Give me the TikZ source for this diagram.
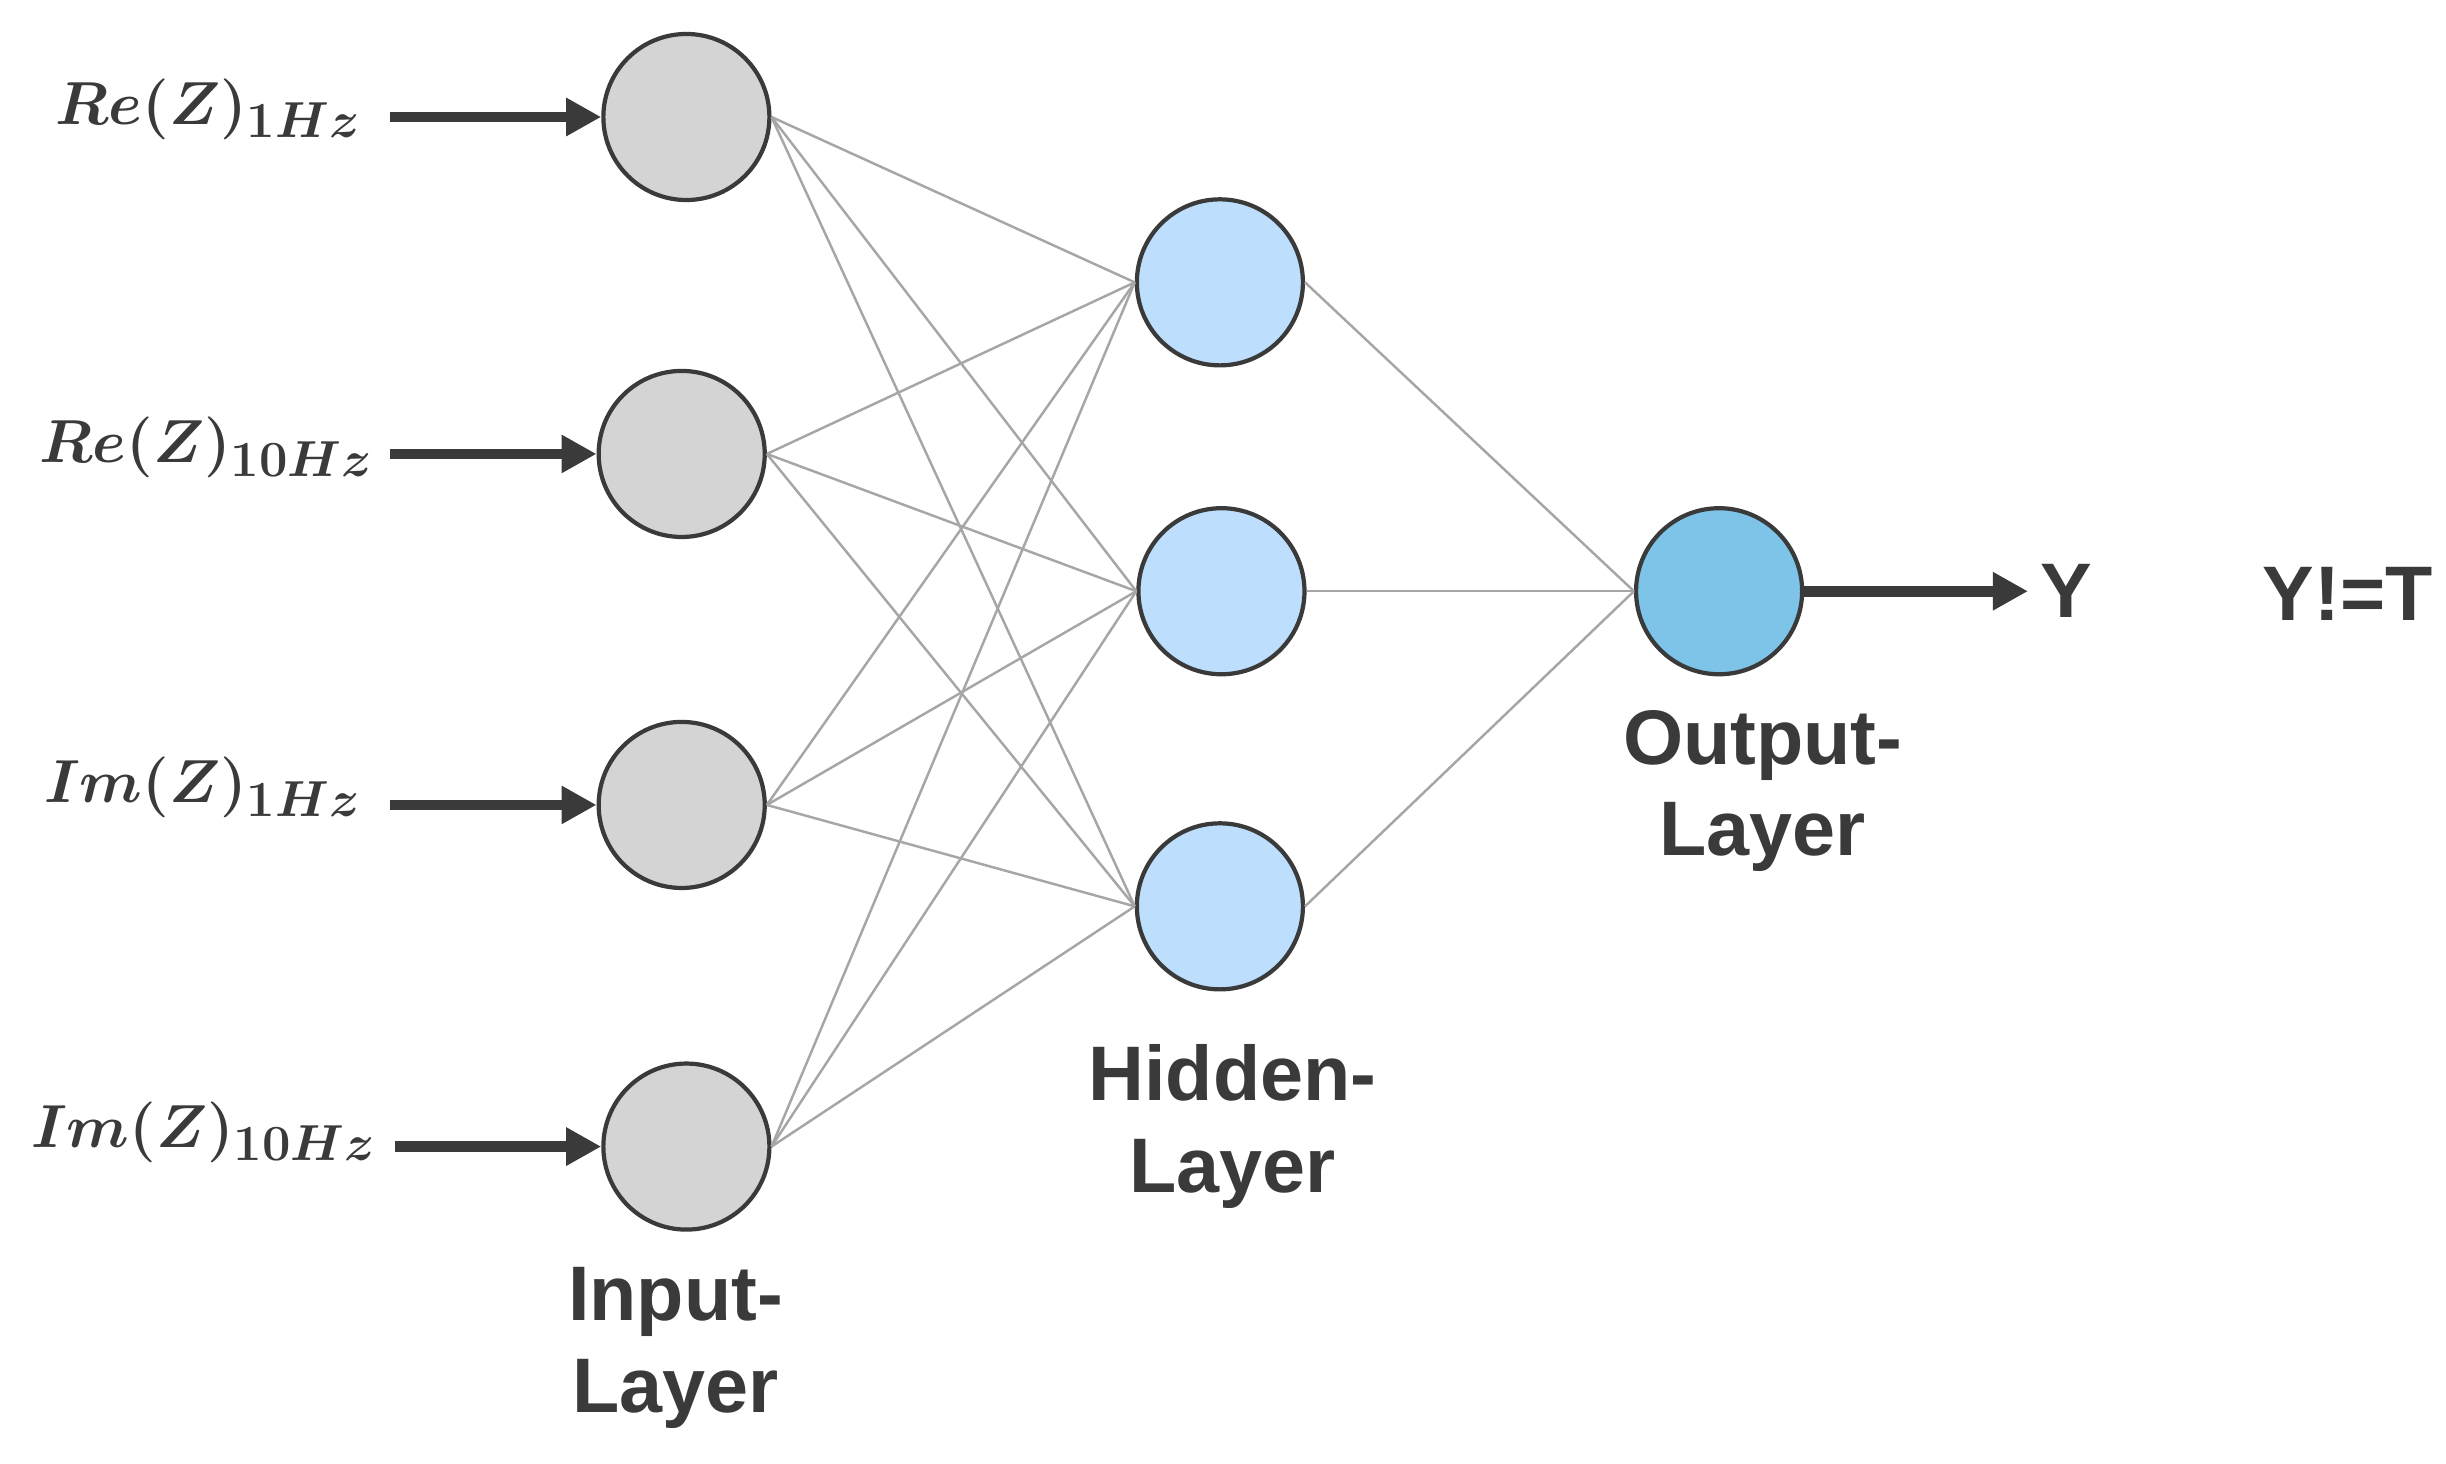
\documentclass[tikz,border=0pt]{standalone}
\usepackage{fontspec}
\setmainfont{Liberation Sans}
\usepackage{amsmath}
\usetikzlibrary{arrows.meta}
\definecolor{ingray}{HTML}{D4D4D4}
\definecolor{hidblue}{HTML}{BDDFFD}
\definecolor{outblue}{HTML}{7DC4E8}
\definecolor{txt}{HTML}{3A3A3A}
\tikzset{
  neuron/.style={circle, draw=txt, line width=1.2pt, minimum size=1.66cm, inner sep=0pt},
  conn/.style={draw=gray!70, line width=0.7pt},
  feed/.style={draw=txt, line width=3pt, -{Triangle[length=0.35cm,width=0.36cm]}},
  lab/.style={text=txt, font=\fontsize{22}{26}\selectfont\bfseries, align=center},
  mlab/.style={text=txt, font=\fontsize{19}{22}\selectfont\boldmath, anchor=east, inner sep=0pt}
}
\begin{document}
\begin{tikzpicture}[x=0.0156cm, y=-0.0156cm]
\useasboundingbox (0,0) rectangle (1568,938);
% input layer
\node[neuron, fill=ingray] (i1) at (440,75) {};
\node[neuron, fill=ingray] (i2) at (437,291) {};
\node[neuron, fill=ingray] (i3) at (437,516) {};
\node[neuron, fill=ingray] (i4) at (440,735) {};
% hidden layer
\node[neuron, fill=hidblue] (h1) at (782,181) {};
\node[neuron, fill=hidblue] (h2) at (783,379) {};
\node[neuron, fill=hidblue] (h3) at (782,581) {};
% output
\node[neuron, fill=outblue] (o) at (1102,379) {};
% connections
\foreach \i in {i1,i2,i3,i4}
  \foreach \h in {h1,h2,h3}
    \draw[conn] (\i.east) -- (\h.west);
\foreach \h in {h1,h2,h3}
  \draw[conn] (\h.east) -- (o.west);
% input labels and arrows
\node[mlab] (l1) at (232,70) {$Re(Z)_{1Hz}$};
\node[mlab] (l2) at (240,287) {$Re(Z)_{10Hz}$};
\node[mlab] (l3) at (232,505) {$Im(Z)_{1Hz}$};
\node[mlab] (l4) at (242,726) {$Im(Z)_{10Hz}$};
\coordinate (a1) at (250,75);
\coordinate (a2) at (250,291);
\coordinate (a3) at (250,516);
\coordinate (a4) at (253,735);
\draw[feed] (a1) -- (i1.west);
\draw[feed] (a2) -- (i2.west);
\draw[feed] (a3) -- (i3.west);
\draw[feed] (a4) -- (i4.west);
% output
\node[lab, anchor=west] (y) at (1300,379) {Y};
\node[lab] (yt) at (1505,381) {Y!=T};
\draw[feed] (o.east) -- (y.west);
% layer labels
\node[lab] (ll) at (433,864) {Input-\\Layer};
\node[lab] (hl) at (790,722) {Hidden-\\Layer};
\node[lab] (ol) at (1130,507) {Output-\\Layer};
\end{tikzpicture}
\end{document}
